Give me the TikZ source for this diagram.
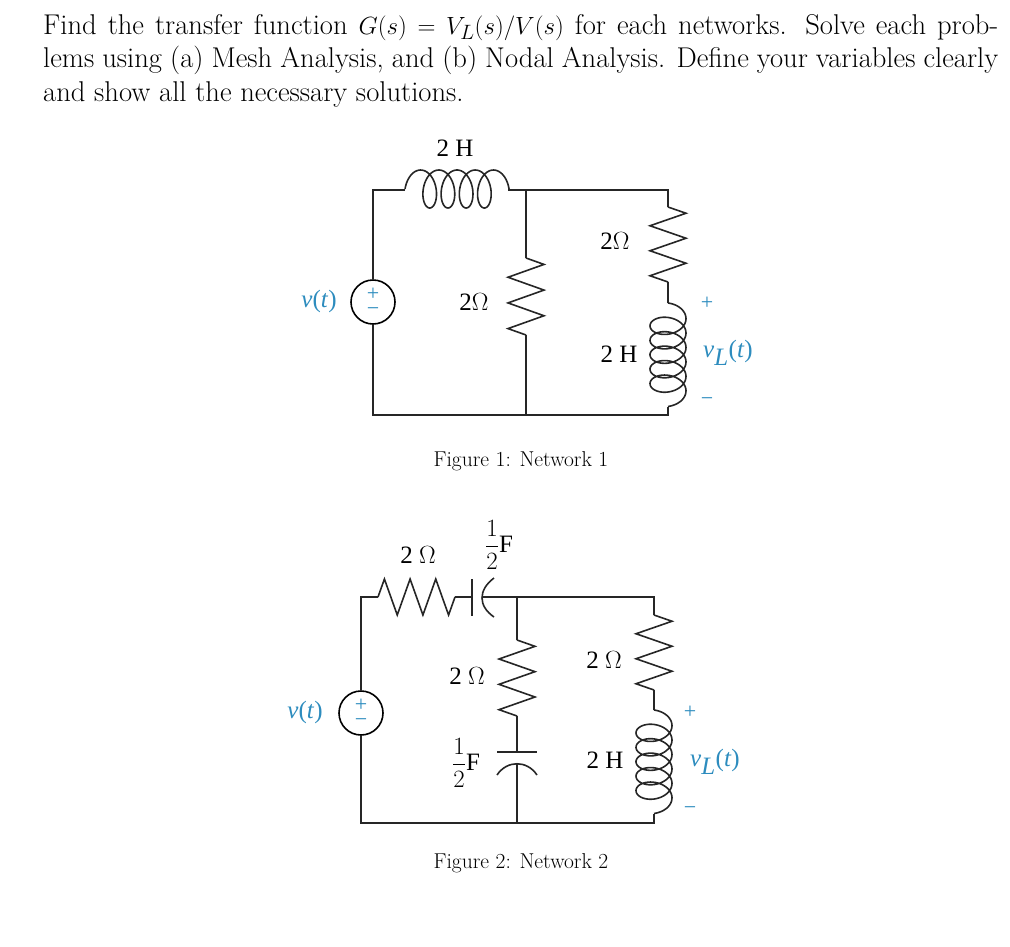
\documentclass[tikz,border=0pt]{standalone}
\usepackage{fontspec}
\newfontfamily\tms{Liberation Serif}
\definecolor{lb}{RGB}{45,140,190}
\newcommand\vres[3]{\draw[wire] ({#1},{#2}) -- ({#1+18},{#2+(#3-#2)/12}) -- ({#1-18},{#2+3*(#3-#2)/12}) -- ({#1+18},{#2+5*(#3-#2)/12}) -- ({#1-18},{#2+7*(#3-#2)/12}) -- ({#1+18},{#2+9*(#3-#2)/12}) -- ({#1-18},{#2+11*(#3-#2)/12}) -- ({#1},{#3});}
\newcommand\hres[3]{\draw[wire] ({#2},{#1}) -- ({#2+(#3-#2)/12},{#1-18}) -- ({#2+3*(#3-#2)/12},{#1+18}) -- ({#2+5*(#3-#2)/12},{#1-18}) -- ({#2+7*(#3-#2)/12},{#1+18}) -- ({#2+9*(#3-#2)/12},{#1-18}) -- ({#2+11*(#3-#2)/12},{#1+18}) -- ({#3},{#1});}
\newcommand\vind[2]{\draw[wire,smooth] plot[domain=-90:1890,samples=260,variable=\t] ({#1+18*cos(\t)},{#2+3.6+12+2.3*\t/57.2958+12*sin(\t)});}
\newcommand\hind[2]{\draw[wire,smooth] plot[domain=-90:1530,samples=220,variable=\t] ({#1+4.6+11+2.9*\t/57.2958+11*sin(\t)},{#2-19*cos(\t)});}
\begin{document}
\begin{tikzpicture}[x=1pt,y=-1pt,
  wire/.style={line width=1.6pt,black!85},
  lab/.style={font=\tms\fontsize{25}{28}\selectfont,inner sep=0pt},
  blab/.style={lab,text=lb},
  pm/.style={text=lb,inner sep=0pt,font=\tms\fontsize{22}{22}\selectfont},
  src/.style={draw,line width=1.6pt,circle,minimum size=44pt,inner sep=0pt,text=lb,align=center,font=\tms\fontsize{22}{15}\selectfont},
  figcap/.style={font=\fontsize{21.5}{24}\selectfont,inner sep=0pt}]
\useasboundingbox (0,0) rectangle (1010,946);
\node[anchor=north west,inner sep=0pt,text width=955pt,align=justify,font=\fontsize{28.6}{33.5}\selectfont] (txt) at (43,14)
 {Find the transfer function $G(s)=V_L(s)/V(s)$ for each networks. Solve each prob-\linebreak lems using (a) Mesh Analysis, and (b) Nodal Analysis. Define your variables clearly\linebreak and show all the necessary solutions.};
% ---------- Figure 1
\node[src] (s1) at (373,302) {+\\\textminus};
\coordinate (a1) at (373,190); \coordinate (b1) at (526,190); \coordinate (c1) at (668,190);
\coordinate (d1) at (373,415); \coordinate (e1) at (526,415); \coordinate (f1) at (668,415);
\draw[wire] (s1.north) -- (a1) -- (405,190);
\hind{405}{189}
\draw[wire] (508,190) -- (b1) -- (c1) -- (668,207);
\vres{526}{258}{335}
\draw[wire] (b1) -- (526,258); \draw[wire] (526,335) -- (e1);
\vres{668}{207}{282}
\draw[wire] (668,282) -- (668,303);
\vind{668}{303}
\draw[wire] (668,407) -- (f1) -- (e1) -- (d1) -- (s1.south);
\node[lab] at (455,148) {2 H};
\node[lab] at (615,241) {2$\Omega$};
\node[lab] at (474,302) {2$\Omega$};
\node[lab] at (619,354) {2 H};
\node[blab] at (319,301) {\textit{v}(\textit{t})};
\node[pm] at (707,303) {+};
\node[pm] at (707,402) {\textminus};
\node[blab] at (728,353) {\textit{v}$_{\textit{L}}$(\textit{t})};
\node[figcap] (cap1) at (521,461) {Figure 1: Network 1};
% ---------- Figure 2
\node[src] (s2) at (361,713) {+\\\textminus};
\coordinate (a2) at (361,597); \coordinate (b2) at (517,597); \coordinate (c2) at (654,597);
\coordinate (d2) at (361,823); \coordinate (e2) at (517,823); \coordinate (f2) at (654,823);
\draw[wire] (s2.north) -- (a2) -- (378,597);
\hres{597}{378}{455}
\draw[wire] (455,597) -- (472,597);
\draw[wire] (472,579) -- (472,616);
\draw[wire] (494,578) .. controls (478,590) and (478,606) .. (494,617);
\draw[wire] (482,597) -- (b2) -- (c2) -- (654,615);
\vres{517}{640}{716}
\draw[wire] (b2) -- (517,640); \draw[wire] (517,716) -- (517,752);
\draw[wire] (497,752) -- (537,752);
\draw[wire] (497,775) .. controls (507,760) and (527,760) .. (537,775);
\draw[wire] (517,764) -- (e2);
\vres{654}{615}{690}
\draw[wire] (654,690) -- (654,710);
\vind{654}{710}
\draw[wire] (654,814) -- (f2) -- (e2) -- (d2) -- (s2.south);
\node[lab] at (418,555) {2 $\Omega$};
\node[lab,anchor=west] at (485,545) {$\displaystyle\frac{1}{2}$F};
\node[lab] at (467,676) {2 $\Omega$};
\node[lab,anchor=west] at (452,763) {$\displaystyle\frac{1}{2}$F};
\node[lab] at (604,660) {2 $\Omega$};
\node[lab] at (605,760) {2 H};
\node[blab] at (305,712) {\textit{v}(\textit{t})};
\node[pm] at (690,712) {+};
\node[pm] at (690,811) {\textminus};
\node[blab] at (715,762) {\textit{v}$_{\textit{L}}$(\textit{t})};
\node[figcap] (cap2) at (521,863) {Figure 2: Network 2};
\end{tikzpicture}
\end{document}
